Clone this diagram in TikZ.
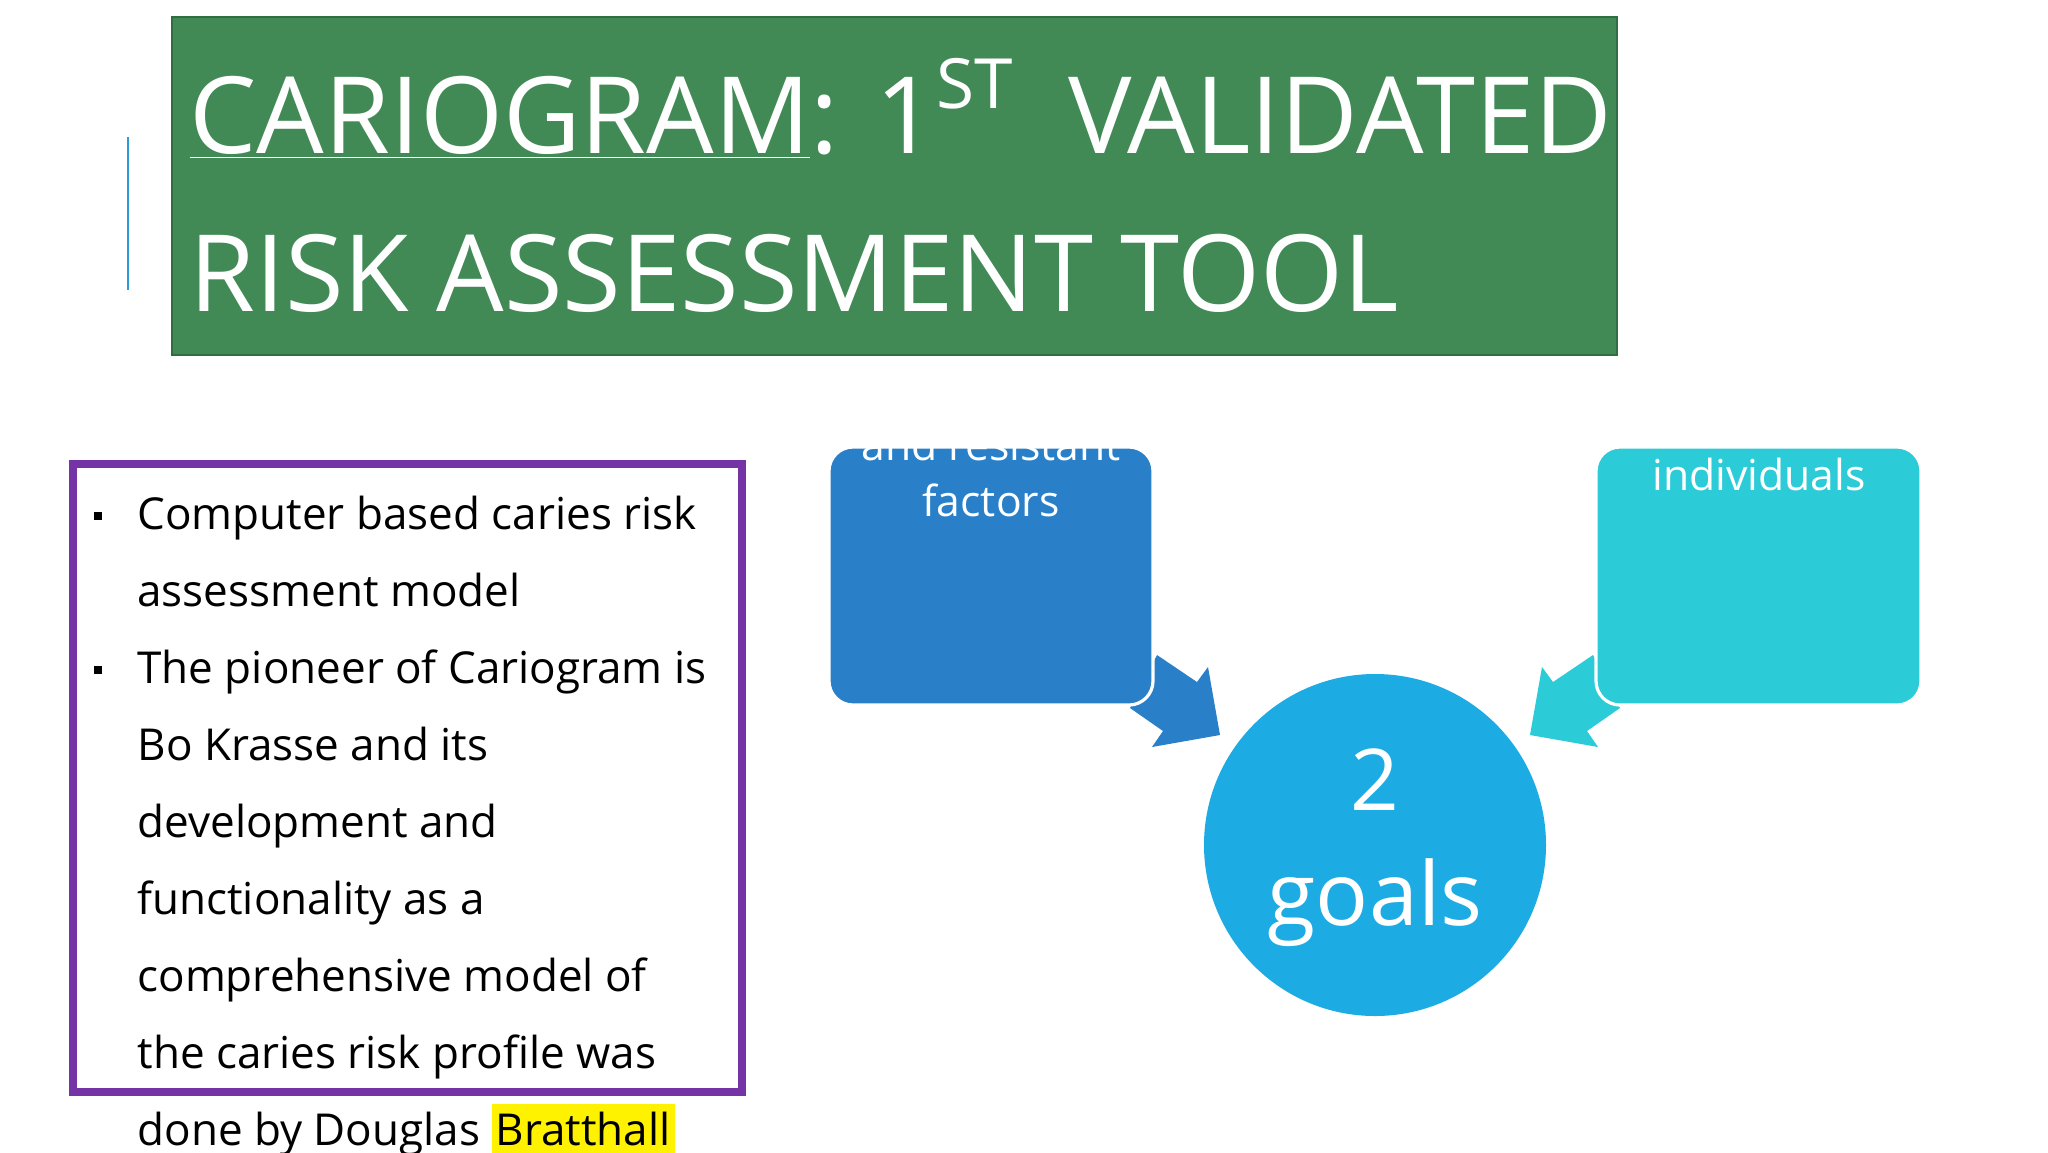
\documentclass[tikz,border=0pt]{standalone}
\usepackage{fontspec}
\setmainfont{Open Sans}
\definecolor{tgreen}{HTML}{418A55}
\definecolor{tgreenD}{HTML}{2F6E40}
\definecolor{bbox}{HTML}{2A80C8}
\definecolor{cbox}{HTML}{2BCBD8}
\definecolor{circ}{HTML}{1DABE3}
\definecolor{purp}{HTML}{7434A6}
\definecolor{vline}{HTML}{2A9AD8}
\begin{document}
\begin{tikzpicture}[x=0.375pt,y=-0.375pt,
  body/.style={anchor=base west,inner sep=0pt,font=\fontsize{16.5}{20}\selectfont},
  ttl/.style={anchor=base west,inner sep=0pt,text=white,font=\fontsize{40}{48}\selectfont},
  boxtxt/.style={align=center,text=white,font=\fontsize{16}{21}\selectfont,inner sep=0pt},
  goalbox/.style={rounded corners=9pt,draw=white,line width=1.2pt},
  bul/.style={fill=black,minimum size=3.2pt,inner sep=0pt}]
\useasboundingbox (0,0) rectangle (2048,1152);
\fill[white] (0,0) rectangle (2048,1152);
% title
\draw[vline,line width=1pt] (128,137) coordinate (v1) -- (128,290) coordinate (v2);
\draw[fill=tgreen,draw=tgreenD,line width=0.8pt] (172,17) rectangle (1617,355);
\node[ttl] (t1) at (189,153) {\underline{CARIOGRAM}: 1\raisebox{0.42em}{\fontsize{26}{30}\selectfont ST}\ \ VALIDATED};
\node[ttl] (t2) at (189,311) {RISK ASSESSMENT TOOL};
% purple box
\draw[purp,line width=3pt] (73,464) rectangle (742,1092);
\node[bul] (b1) at (98,516) {};
\node[bul] (b2) at (98,670) {};
\node[body] (l1) at (137,529) {Computer based caries risk};
\node[body] (l2) at (137,606) {assessment model};
\node[body] (l3) at (137,683) {The pioneer of Cariogram is};
\node[body] (l4) at (137,760) {Bo Krasse and its};
\node[body] (l5) at (137,837) {development and};
\node[body] (l6) at (137,914) {functionality as a};
\node[body] (l7) at (137,991) {comprehensive model of};
\node[body] (l8) at (137,1068) {the caries risk profile was};
\node[body] (l9) at (137,1145) {done by Douglas {\setlength{\fboxsep}{1.5pt}\colorbox{yellow}{Bratthall\strut}}};
% arrows
\fill[bbox] (1157,655) -- (1197,682) -- (1208,667) -- (1220,735) -- (1152,747) -- (1163,731) -- (1130,708) -- cycle;
\fill[cbox] (2750-1157,655) -- (2750-1197,682) -- (2750-1208,667) -- (2750-1220,735) -- (2750-1152,747) -- (2750-1163,731) -- (2750-1130,708) -- cycle;
% boxes
\draw[goalbox,fill=bbox] (829,447) rectangle (1153,705);
\draw[goalbox,fill=cbox] (1596,447) rectangle (1921,705);
\node[boxtxt,anchor=base] (bt) at (991,516) {Individual risk\\and resistant\\factors};
\node[boxtxt,anchor=base] (ct) at (1759,490) {provides\\targeted\\strategies for\\individuals};
% circle
\fill[circ] (1375,845) circle (171);
\node[anchor=base,text=white,inner sep=0pt,font=\fontsize{32}{36}\selectfont] (g1) at (1375,810) {2};
\node[anchor=base,text=white,inner sep=0pt,font=\fontsize{33}{36}\selectfont] (g2) at (1375,925) {goals};
\end{tikzpicture}
\end{document}
